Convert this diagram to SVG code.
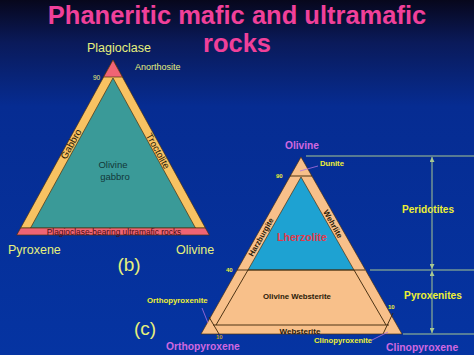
<svg xmlns="http://www.w3.org/2000/svg" width="474" height="355" viewBox="0 0 474 355">
<defs>
<linearGradient id="bg" x1="0" y1="0" x2="0" y2="1">
<stop offset="0" stop-color="#07071c"/>
<stop offset="0.12" stop-color="#0a1a5a"/>
<stop offset="0.3" stop-color="#062c92"/>
<stop offset="1" stop-color="#0534a2"/>
</linearGradient>
<marker id="ah" viewBox="0 0 6 6" refX="6" refY="3" markerWidth="5" markerHeight="5" orient="auto">
<path d="M0,0 L6,3 L0,6 z" fill="#a8c890"/>
</marker>
<style>
text{font-family:"Liberation Sans",Arial,sans-serif}
.title{font-size:25.5px;font-weight:bold;fill:#f0409a;text-anchor:middle}
.lb{fill:#e6f07c;font-size:12.5px}
.b{font-weight:bold}
.yel{fill:#eef034;font-weight:bold}
.vio{fill:#d068e0;font-weight:bold}
.dk{fill:#2a1a08;font-weight:bold}
.edge{stroke:#4a3010;stroke-width:0.7}
.thin{stroke:#3a2408;stroke-width:0.9;fill:none}
.scale{stroke:#a8c890;stroke-width:1;fill:none}
.ptr{stroke:#b070e0;stroke-width:0.8;fill:none}
.mid{text-anchor:middle}
</style>
</defs>
<rect width="474" height="355" fill="url(#bg)"/>
<text class="title" x="237" y="23.5"><tspan x="237">Phaneritic mafic and ultramafic</tspan><tspan x="237" dy="28.6">rocks</tspan></text>

<g id="diagram-b">
<polygon class="edge" points="113,60 20.6,228 205.4,228" fill="#f8c262"/>
<polygon class="edge" points="113,78 30.5,228 195.5,228" fill="#3a9a98"/>
<polygon class="edge" points="113,60 103.6,77 122.4,77" fill="#f06474"/>
<polygon class="edge" points="20.6,228 205.4,228 209.3,235 16.7,235" fill="#f06474"/>
<text class="lb" x="87" y="52">Plagioclase</text>
<text x="135" y="70" fill="#e6f07c" font-size="9">Anorthosite</text>
<text x="93" y="80" fill="#e6f07c" font-size="6.5">90</text>
<text x="71" y="144" font-size="9.8" fill="#2a1a08" class="mid" dy="0.35em" transform="rotate(-61 71 144)">Gabbro</text>
<text x="158" y="151" font-size="9.6" fill="#2a1a08" class="mid" dy="0.35em" transform="rotate(61 158 151)">Troctolite</text>
<text x="113" y="167.5" font-size="9.5" fill="#123838" class="mid">Olivine</text>
<text x="115" y="179.5" font-size="9.5" fill="#123838" class="mid">gabbro</text>
<text x="114" y="234.5" font-size="8.4" fill="#4a0e14" class="mid">Plagioclase-bearing ultramafic rocks</text>
<text class="lb" x="8" y="254">Pyroxene</text>
<text class="lb" x="176" y="254">Olivine</text>
<text x="129" y="271" fill="#e6f07c" font-size="19" class="mid">(b)</text>
</g>

<g id="diagram-c">
<polygon class="edge" points="301,157 201,334 402,334" fill="#f8c08a"/>
<polygon class="edge" points="301,177 248,270 354,270" fill="#1ea2d2"/>
<text x="302" y="149" font-size="10.2" class="vio mid">Olivine</text>
<text x="320" y="166" font-size="7.7" class="yel">Dunite</text>
<text x="276" y="178" font-size="6" class="yel">90</text>
<text x="261" y="237" font-size="7.7" class="dk mid" dy="0.35em" transform="rotate(-60.5 261 237)">Harzburgite</text>
<text x="333" y="224" font-size="7.9" class="dk mid" dy="0.35em" transform="rotate(60.5 333 224)">Wehrlite</text>
<text x="302" y="241" font-size="10.6" fill="#e03a4a" font-weight="bold" class="mid">Lherzolite</text>
<text x="226" y="272" font-size="6" class="yel">40</text>
<text x="297" y="299" font-size="7.8" class="dk mid">Olivine Websterite</text>
<text x="300" y="334" font-size="8" class="dk mid">Websterite</text>
<text x="147" y="303" font-size="7.8" class="yel">Orthopyroxenite</text>
<text x="314" y="343" font-size="7.7" class="yel">Clinopyroxenite</text>
<text x="388" y="309" font-size="6" class="yel">10</text>
<text x="216" y="339" font-size="6" fill="#c8a020" font-weight="bold">10</text>
<text x="166" y="350" font-size="10.3" class="vio">Orthopyroxene</text>
<text x="386" y="351" font-size="10.4" class="vio">Clinopyroxene</text>
<text x="145" y="335" fill="#e6f07c" font-size="19" class="mid">(c)</text>
<text x="428" y="213" font-size="10.1" class="yel mid">Peridotites</text>
<text x="433" y="299" font-size="10.2" class="yel mid">Pyroxenites</text>
</g>

<g id="connectors">
<line class="thin" x1="290" y1="176" x2="312" y2="176"/>
<line class="thin" x1="237" y1="270" x2="365" y2="270"/>
<line class="thin" x1="248" y1="270" x2="216" y2="325"/>
<line class="thin" x1="354" y1="270" x2="386" y2="325"/>
<line class="thin" x1="213" y1="325" x2="389" y2="325" stroke-width="1.3"/>
<line class="thin" x1="209" y1="317" x2="219" y2="334"/>
<line class="thin" x1="393" y1="313" x2="383" y2="334"/>
<line class="ptr" x1="300" y1="171" x2="318" y2="166"/>
<line class="ptr" x1="202" y1="308" x2="208" y2="323"/>
<line class="ptr" x1="372" y1="340" x2="388" y2="332"/>
<line class="scale" x1="306" y1="156" x2="474" y2="156"/>
<line class="scale" x1="370" y1="270" x2="474" y2="270"/>
<line class="scale" x1="403" y1="334" x2="474" y2="334"/>
<line class="scale" x1="432" y1="213" x2="432" y2="157" marker-end="url(#ah)"/>
<line class="scale" x1="432" y1="213" x2="432" y2="269" marker-end="url(#ah)"/>
<line class="scale" x1="432" y1="300" x2="432" y2="271" marker-end="url(#ah)"/>
<line class="scale" x1="432" y1="300" x2="432" y2="333" marker-end="url(#ah)"/>
</g>
</svg>
